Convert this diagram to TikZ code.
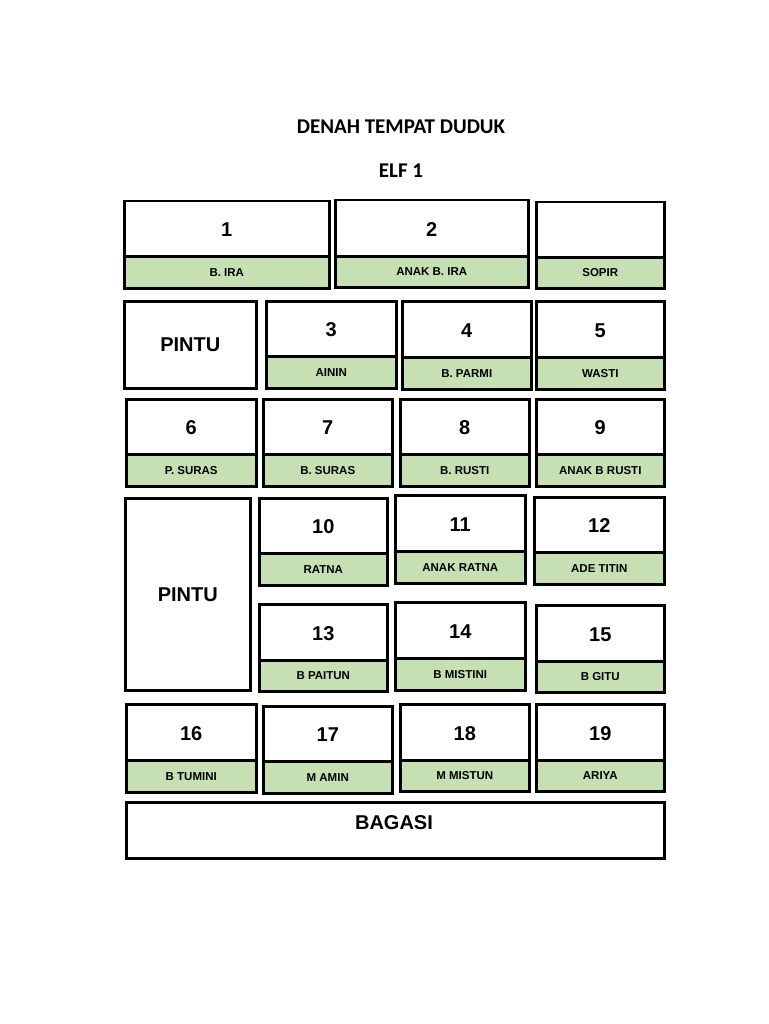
\documentclass[tikz,border=0pt]{standalone}
\usepackage{fontspec}
\setmainfont{Liberation Sans}
\newfontfamily\calib{Carlito}
\definecolor{seatgreen}{HTML}{C6E0B4}
\tikzset{
 box/.style={draw=black,line width=2.5pt,anchor=north west,inner sep=0pt},
 numbox/.style={box,fill=white,font=\bfseries\fontsize{20}{24}\selectfont},
 lblbox/.style={box,fill=seatgreen,font=\bfseries\fontsize{11.5}{14}\selectfont},
}
\newcommand{\seatbox}[8]{%
 \pgfmathsetmacro{\sw}{#3-#2}\pgfmathsetmacro{\ha}{#5-#4}\pgfmathsetmacro{\hb}{#6-#5}%
 \node[numbox,minimum width=\sw pt,minimum height=\ha pt] (n#1) at (#2,#4) {};
 \node[anchor=center,font=\bfseries\fontsize{20}{24}\selectfont] (t#1) at ([yshift=-1pt]n#1.center) {#7};
 \node[lblbox,minimum width=\sw pt,minimum height=\hb pt] (l#1) at (#2,#5) {#8};
}
\begin{document}
\begin{tikzpicture}[x=1pt,y=-1pt]
\useasboundingbox (0,0) rectangle (768,1024);
\node[font=\calib\bfseries\fontsize{21}{25}\selectfont] (title) at (401,127) {DENAH TEMPAT DUDUK};
\node[font=\calib\bfseries\fontsize{21}{25}\selectfont] (elf) at (401,171) {ELF 1};
\seatbox{1}{123}{328}{200}{255}{287}{1}{B. IRA}
\seatbox{2}{334}{527}{199}{255}{286}{2}{ANAK B. IRA}
\seatbox{s}{535}{663}{201}{256}{287}{}{SOPIR}
\node[numbox,minimum width=132pt,minimum height=87pt] (p1) at (123,300) {PINTU};
\seatbox{3}{265}{395}{300}{355}{387}{3}{AININ}
\seatbox{4}{401}{530}{300}{356}{388}{4}{B. PARMI}
\seatbox{5}{535}{663}{300}{356}{388}{5}{WASTI}
\seatbox{6}{125}{255}{398}{453}{485}{6}{P. SURAS}
\seatbox{7}{262}{391}{398}{453}{485}{7}{B. SURAS}
\seatbox{8}{399}{528}{398}{453}{485}{8}{B. RUSTI}
\seatbox{9}{535}{663}{398}{453}{485}{9}{ANAK B RUSTI}
\node[numbox,minimum width=125pt,minimum height=192pt] (p2) at (124,497) {PINTU};
\seatbox{10}{258}{386}{497}{552}{584}{10}{RATNA}
\seatbox{11}{394}{524}{494}{550}{582}{11}{ANAK RATNA}
\seatbox{12}{533}{663}{496}{551}{583}{12}{ADE TITIN}
\seatbox{13}{258}{386}{603}{659}{690}{13}{B PAITUN}
\seatbox{14}{394}{524}{601}{657}{689}{14}{B MISTINI}
\seatbox{15}{535}{663}{604}{660}{691}{15}{B GITU}
\seatbox{16}{125}{255}{703}{759}{791}{16}{B TUMINI}
\seatbox{17}{262}{391}{705}{760}{792}{17}{M AMIN}
\seatbox{18}{399}{528}{703}{759}{790}{18}{M MISTUN}
\seatbox{19}{535}{663}{703}{759}{790}{19}{ARIYA}
\node[numbox,minimum width=538pt,minimum height=56pt] (bag) at (125,801) {};
\node[font=\bfseries\fontsize{20}{24}\selectfont] (bagt) at (394,823) {BAGASI};
\end{tikzpicture}
\end{document}
